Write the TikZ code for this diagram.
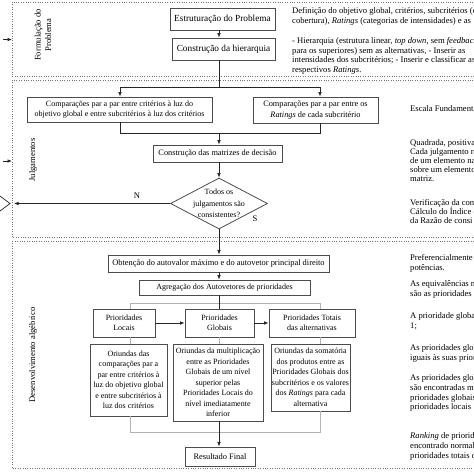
\documentclass[tikz,border=0pt]{standalone}
\usepackage{fontspec}
\setmainfont{Liberation Serif}
\usetikzlibrary{arrows.meta,shapes.geometric}
\begin{document}
\begin{tikzpicture}[x=1pt,y=-1pt,
 box/.style={draw=black!70, line width=0.9pt, fill=white, inner sep=0pt, align=center, font=\fontsize{8}{10.5}\selectfont},
 bigbox/.style={box, font=\fontsize{9.3}{11}\selectfont},
 rtext/.style={anchor=base west, inner sep=0pt, font=\fontsize{8.6}{10}\selectfont},
 lbl/.style={inner sep=0pt, font=\fontsize{8.6}{10.5}\selectfont},
 arr/.style={draw=black!85, line width=0.7pt, -{Latex[length=4.5pt,width=3.6pt]}},
 ln/.style={draw=black!85, line width=0.7pt},
 lgt/.style={draw=black!30, line width=0.7pt},
 sec/.style={draw=black!55, line width=0.8pt, dash pattern=on 0.8pt off 1.6pt},
]
\useasboundingbox (0,0) rectangle (474,474);
\clip (0,0) rectangle (474,474);
\fill[white] (0,0) rectangle (474,474);

% sections
\draw[sec] (12,2) rectangle (490,76);
\draw[sec] (12,80) rectangle (490,237);
\draw[sec] (12,241) rectangle (490,468);

% section labels
\node[lbl, rotate=90, align=center] (t1) at (43,35) {Formulação do\\Problema};
\node[lbl, rotate=90] (t2) at (33,160) {Julgamentos};
\node[lbl, rotate=90] (t3) at (33,355) {Desenvolvimento algébrico};

% spine
\coordinate (sp) at (219,0);

% section 1
\node[bigbox, minimum width=105pt, minimum height=22pt] (est) at (222.5,19) {Estruturação do Problema};
\node[bigbox, minimum width=103pt, minimum height=22pt] (hier) at (223.5,49) {Construção da hierarquia};
\draw[arr] (est.south -| sp) -- (hier.north -| sp);

% section 2
\node[box, minimum width=185pt, minimum height=25pt] (A) at (119.5,109.5) {Comparações par a par entre critérios à luz do\\objetivo global e entre subcritérios à luz dos critérios};
\node[box, font=\fontsize{8.3}{10.5}\selectfont, minimum width=125pt, minimum height=26pt] (B) at (315.5,110) {Comparações par a par entre os\\\textit{Ratings} de cada subcritério};
\coordinate (j1) at (219,87);
\coordinate (ja) at (120,87);
\coordinate (jb) at (320,87);
\draw[ln] (hier.south -| sp) -- (j1);
\draw[ln] (ja) -- (jb);
\draw[arr] (ja) -- (ja |- A.north);
\draw[arr] (jb) -- (jb |- B.north);

\node[box, font=\fontsize{8.3}{10.5}\selectfont, minimum width=129pt, minimum height=17pt] (C) at (217.5,153.5) {Construção das matrizes de decisão};
\coordinate (ka) at (120,133);
\coordinate (kb) at (320,133);
\draw[ln] (ka |- A.south) -- (ka) -- (kb) -- (kb |- B.south);
\draw[arr] (sp |- ka) -- (sp |- C.north);

\node[diamond, draw=black!70, line width=0.8pt, fill=white, minimum width=97pt, minimum height=51pt, inner sep=0pt] (dec) at (219,203.5) {};
\node[lbl, align=center, font=\fontsize{8}{11.5}\selectfont] (dectext) at (dec.center) {Todos os\\julgamentos são\\consistentes?};
\draw[arr] (sp |- C.south) -- (dec.north);
\coordinate (nend) at (14,203.5);
\draw[arr] (dec.west) -- (nend);
\node[lbl] (nl) at (137,196) {N};
\node[lbl] (sl) at (255,219) {S};

% left edge fragments
\coordinate (l1a) at (3,39.5);
\coordinate (l1b) at (12,39.5);
\draw[arr] (l1a) -- (l1b);
\coordinate (l2a) at (3,161);
\coordinate (l2b) at (12,161);
\draw[arr] (l2a) -- (l2b);
\draw[ln] (0,196) -- (10,203.5) -- (0,211);

% section 3
\node[box, font=\fontsize{8.4}{10.5}\selectfont, minimum width=221pt, minimum height=17pt] (obt) at (218.5,263.5) {Obtenção do autovalor máximo e do autovetor principal direito};
\node[box, minimum width=171pt, minimum height=15pt] (agg) at (224.5,287.5) {Agregação dos Autovetores de prioridades};
\draw[arr] (dec.south) -- (sp |- obt.north);
\draw[arr] (sp |- obt.south) -- (sp |- agg.north);

\node[box, minimum width=62pt, minimum height=28pt] (loc) at (124,323) {Prioridades\\Locais};
\node[box, minimum width=69pt, minimum height=28pt] (glo) at (219.5,323) {Prioridades\\Globais};
\node[box, minimum width=86pt, minimum height=28pt] (tot) at (312,323) {Prioridades Totais\\das alternativas};

\coordinate (pa) at (130,303);
\coordinate (pb) at (320,303);
\draw[lgt] (pa |- loc.north) -- (pa) -- (pb) -- (pb |- tot.north);
\draw[ln] (sp |- agg.south) -- (sp |- glo.north);
\draw[arr] (loc.east) -- (glo.west);
\draw[arr] (glo.east) -- (tot.west);

\node[box, minimum width=77pt, minimum height=72pt] (d1) at (128.5,380) {Oriundas das\\comparações par a\\par entre critérios à\\luz do objetivo global\\e entre subcritérios à\\luz dos critérios};
\node[box, minimum width=90pt, minimum height=77pt] (d2) at (218,382.5) {Oriundas da multiplicação\\entre as Prioridades\\Globais de um nível\\superior pelas\\Prioridades Locais do\\nível imediatamente\\inferior};
\node[box, minimum width=79pt, minimum height=67pt] (d3) at (310.5,377.5) {Oriundas da somatória\\dos produtos entre as\\Prioridades Globais dos\\subcritérios e os valores\\dos \textit{Ratings} para cada\\alternativa};

\draw[lgt] (pa |- loc.south) -- (pa |- d1.north);
\draw[lgt] (sp |- glo.south) -- (sp |- d2.north);
\draw[lgt] (pb |- tot.south) -- (pb |- d3.north);

\node[box, font=\fontsize{8.4}{10.5}\selectfont, minimum width=70pt, minimum height=19pt] (res) at (220,456.5) {Resultado Final};
\coordinate (qa) at (130,432);
\coordinate (qb) at (320,432);
\draw[lgt] (qa |- d1.south) -- (qa) -- (qb) -- (qb |- d3.south);
\draw[arr] (sp |- d2.south) -- (sp |- res.north);

% right column texts
\foreach \yy/\tx [count=\i] in {
 13/{Definição do objetivo global, critérios, subcritérios (e},
 23/{cobertura), \textit{Ratings} (categorias de intensidades) e as},
 43/{- Hierarquia (estrutura linear, \textit{top down}, sem \textit{feedback}},
 53/{para os superiores) sem as alternativas, - Inserir as},
 62.5/{intensidades dos subcritérios; - Inserir e classificar as},
 72/{respectivos \textit{Ratings}.}}
 \node[rtext] (ra\i) at (292,\yy) {\tx};

\foreach \yy/\tx [count=\i] in {
 111.5/{Escala Fundamental},
 145.5/{Quadrada, positiva e},
 154.5/{Cada julgamento re},
 163.5/{de um elemento na},
 172.5/{sobre um elemento},
 181.5/{matriz.},
 205.5/{Verificação da cons},
 214.5/{Cálculo do Índice de},
 223.5/{da  Razão de consi},
 260.5/{Preferencialmente pelo},
 270.5/{potências.},
 286.5/{As equivalências no},
 296.5/{são as prioridades},
 318.5/{A prioridade global},
 328.5/{1;},
 350.5/{As prioridades globais},
 360.5/{iguais às suas priori},
 380.5/{As prioridades globais},
 390.5/{são encontradas mu},
 400.5/{prioridades globais},
 409.5/{prioridades locais},
 438.5/{\textit{Ranking} de priorida},
 448.5/{encontrado normal},
 458.5/{prioridades totais das}}
 \node[rtext] (rb\i) at (410,\yy) {\tx};
\end{tikzpicture}
\end{document}
